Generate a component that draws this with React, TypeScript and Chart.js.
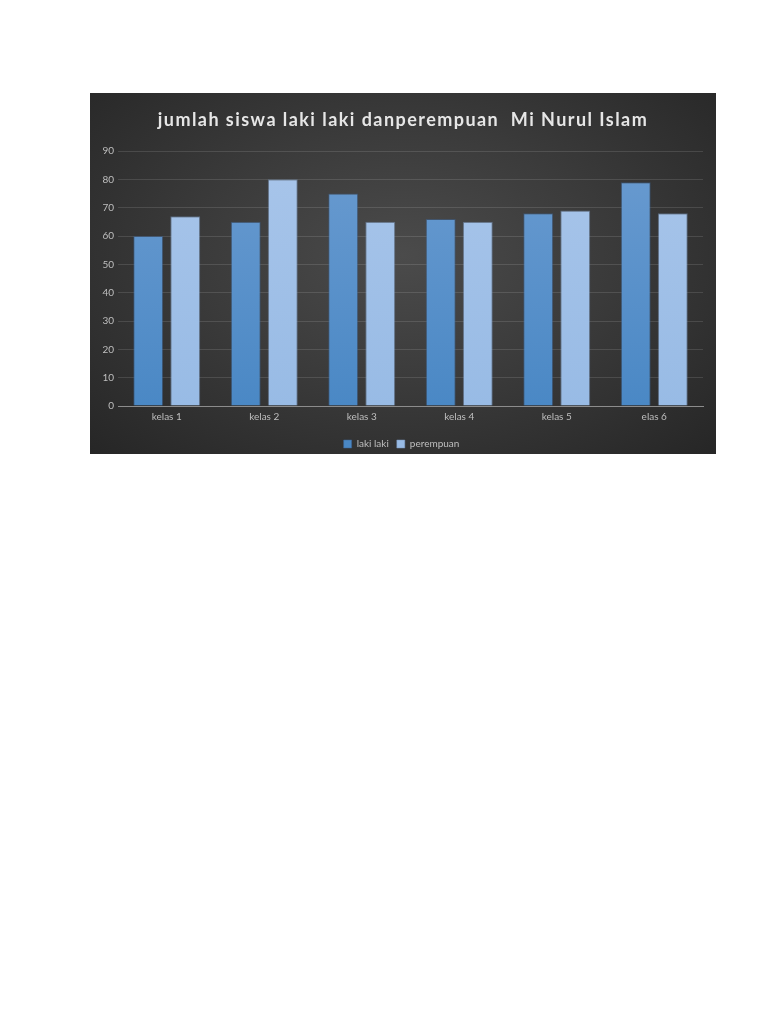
import { useEffect, useRef } from 'react';
import { Chart, registerables, ChartOptions, Plugin } from 'chart.js';

Chart.register(...registerables);

const TITLE = 'jumlah siswa laki laki danperempuan  Mi Nurul Islam';
const categories = ['kelas 1', 'kelas 2', 'kelas 3', 'kelas 4', 'kelas 5', 'elas 6'];
const lakiLaki = [60, 65, 75, 66, 68, 79];
const perempuan = [67, 80, 65, 65, 69, 68];

const FONT = 'Lato, "Open Sans", sans-serif';

// title drawn by hand so the letter spacing can match
const titlePlugin: Plugin<'bar'> = {
    id: 'spacedTitle',
    afterLayout(chart) {
        // nudge the legend a little lower and to the right
        const legend: any = (chart as any).legend;
        if (legend) {
            legend.top += 5;
            legend.bottom += 5;
            legend.left += 5;
            legend.right += 5;
        }
    },
    afterDraw(chart) {
        const ctx = chart.ctx;
        ctx.save();
        ctx.font = `bold 18px ${FONT}`;
        (ctx as any).letterSpacing = '1.45px';
        ctx.fillStyle = '#e6e6e6';
        ctx.textAlign = 'center';
        ctx.textBaseline = 'middle';
        ctx.fillText(TITLE, chart.width / 2, 27);
        ctx.restore();
    },
};

const barGradient = (top: string, bottom: string) => (context: any) => {
    const { chart } = context;
    const area = chart.chartArea;
    if (!area) return bottom;
    const g = chart.ctx.createLinearGradient(0, area.top, 0, area.bottom);
    g.addColorStop(0, top);
    g.addColorStop(1, bottom);
    return g;
};

export default function App() {
    const canvasRef = useRef<HTMLCanvasElement | null>(null);
    const chartRef = useRef<Chart<'bar'> | null>(null);

    useEffect(() => {
        if (!canvasRef.current) return;
        const ctx = canvasRef.current.getContext('2d');
        if (!ctx) return;

        if (chartRef.current) chartRef.current.destroy();

        chartRef.current = new Chart(ctx, {
            type: 'bar',
            data: {
                labels: categories,
                datasets: [
                    {
                        label: 'laki laki',
                        data: lakiLaki,
                        backgroundColor: barGradient('#6a9bd0', '#4a88c5'),
                        borderColor: 'rgba(60,100,150,0.5)',
                        borderWidth: 1,
                        categoryPercentage: 0.76,
                        barPercentage: 0.81,
                    },
                    {
                        label: 'perempuan',
                        data: perempuan,
                        backgroundColor: barGradient('#a8c5ea', '#98bbe5'),
                        borderColor: 'rgba(120,150,190,0.5)',
                        borderWidth: 1,
                        categoryPercentage: 0.76,
                        barPercentage: 0.81,
                    },
                ],
            },
            options: {
                responsive: false,
                animation: false,
                layout: {
                    padding: { top: 58, left: 0, right: 13, bottom: 0 },
                },
                plugins: {
                    title: { display: false },
                    tooltip: { enabled: false },
                    legend: {
                        position: 'bottom',
                        labels: {
                            color: '#bfbfbf',
                            boxWidth: 8,
                            boxHeight: 8,
                            padding: 8,
                            font: { family: FONT, size: 10 },
                        },
                    },
                },
                scales: {
                    x: {
                        afterFit: (scale: any) => {
                            scale.height = 20;
                        },
                        grid: { display: false, drawTicks: false },
                        border: { display: true, color: '#8c8c8c', width: 1 },
                        ticks: {
                            color: '#bfbfbf',
                            padding: 5,
                            font: { family: FONT, size: 10 },
                        },
                    },
                    y: {
                        min: 0,
                        max: 90,
                        afterFit: (scale: any) => {
                            scale.width = 28;
                        },
                        grid: {
                            color: 'rgba(255,255,255,0.12)',
                            drawTicks: false,
                        },
                        border: { display: false },
                        ticks: {
                            stepSize: 10,
                            color: '#bfbfbf',
                            padding: 4,
                            font: { family: FONT, size: 10 },
                        },
                    },
                },
            } as ChartOptions<'bar'>,
            plugins: [titlePlugin],
        });

        return () => {
            if (chartRef.current) {
                chartRef.current.destroy();
                chartRef.current = null;
            }
        };
    }, []);

    return (
        <div
            style={{
                position: 'absolute',
                left: 90,
                top: 93,
                width: 626,
                height: 361,
                background: 'radial-gradient(ellipse at 50% 45%, #4b4b4b 0%, #3b3b3b 45%, #262626 100%)',
            }}
        >
            <canvas ref={canvasRef} width={626} height={361} style={{ display: 'block' }}></canvas>
        </div>
    );
}
